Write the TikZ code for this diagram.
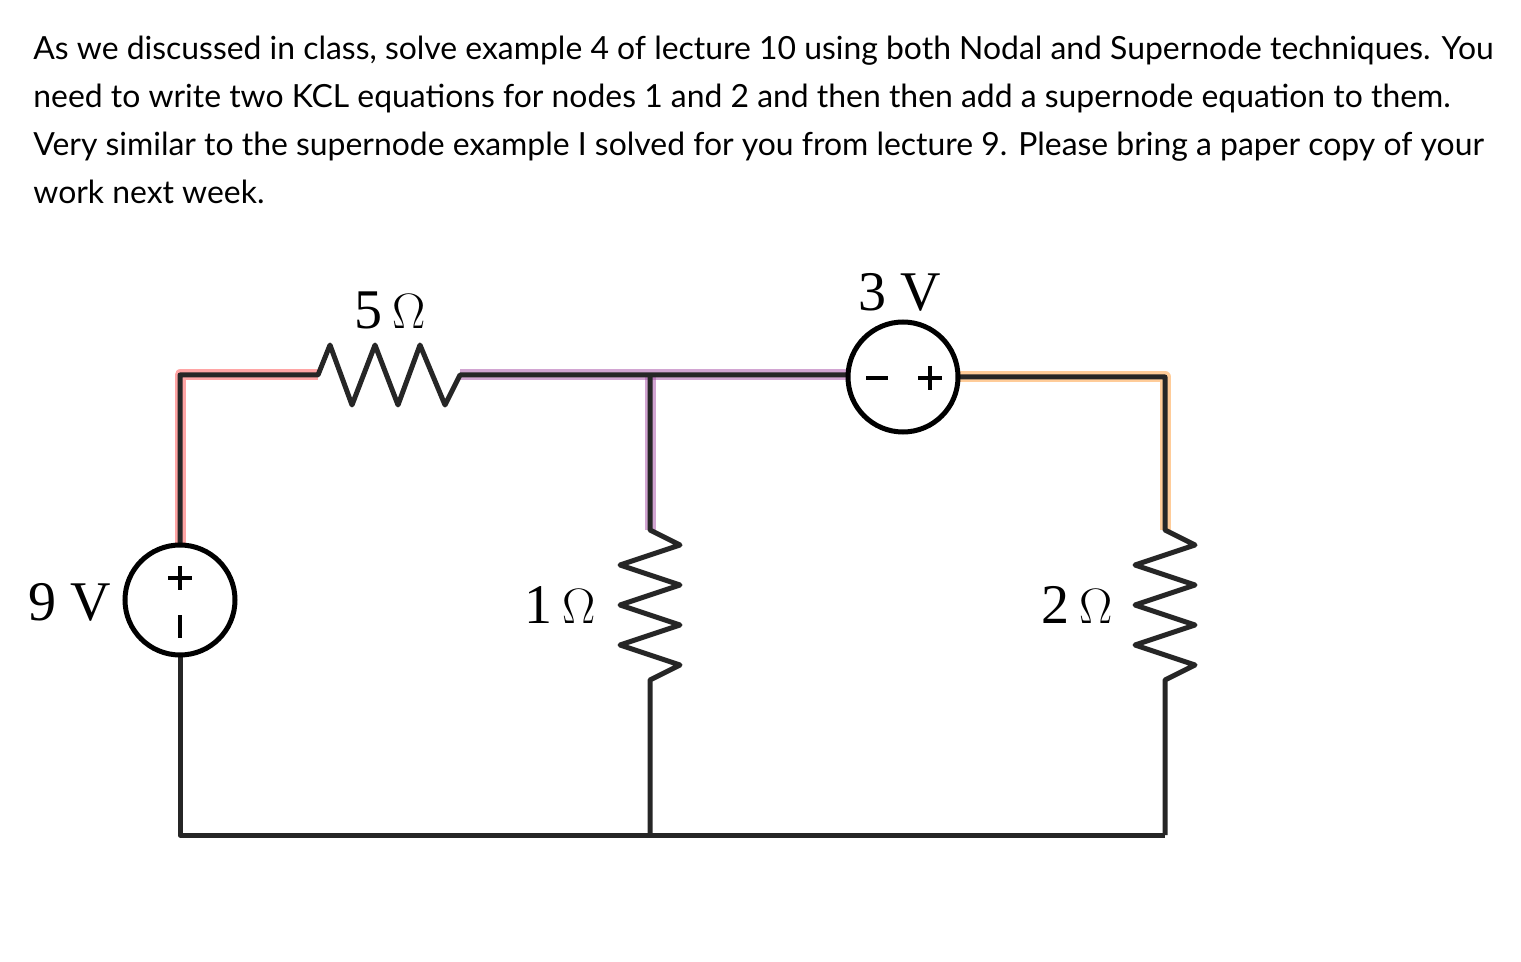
\documentclass[tikz,border=0pt]{standalone}
\usepackage{fontspec}
\setmainfont{Lato}
\newfontfamily\ckt{Liberation Serif}
\begin{document}
\begin{tikzpicture}[x=0.5pt,y=-0.5pt,
  txt/.style={anchor=base west,inner sep=0pt,font=\fontsize{15.95}{18}\selectfont},
  lbl/.style={inner sep=0pt,font=\ckt\fontsize{28}{30}\selectfont},
  wire/.style={line width=2.5pt,line join=round,color=black!85},
  glow/.style={line width=5.5pt,line join=round,opacity=0.5}]
\useasboundingbox (0,0) rectangle (1521,962);
\node[txt] (l1) at (33,60) {As we discussed in class, solve example 4 of lecture 10 using both Nodal and Supernode techniques. You};
\node[txt] (l2) at (33,108) {need to write two KCL equations for nodes 1 and 2 and then then add a supernode equation to them.};
\node[txt] (l3) at (33,156) {Very similar to the supernode example I solved for you from lecture 9. Please bring a paper copy of your};
\node[txt] (l4) at (33,204) {work next week.};
% glows
\draw[glow,red!70] (180,545) -- (180,375) -- (318,375);
\draw[glow,violet!70] (460,375) -- (848,375);
\draw[glow,violet!70] (650,375) -- (650,530);
\draw[glow,orange!80] (958,377) -- (1165,377) -- (1165,530);
% wires
\draw[wire] (180,545) -- (180,375) -- (318,375)
  -- (330,345) -- (352,405) -- (375,345) -- (398,405) -- (420,345) -- (445,405) -- (460,375) -- (848,375);
\draw[wire] (958,377) -- (1165,377) -- (1165,530)
  -- (1195,545) -- (1135,565) -- (1195,585) -- (1135,605) -- (1195,625) -- (1135,645) -- (1195,665) -- (1165,680) -- (1165,835);
\draw[wire] (650,375) -- (650,530)
  -- (680,545) -- (620,565) -- (680,585) -- (620,605) -- (680,625) -- (620,645) -- (680,665) -- (650,680) -- (650,835);
\draw[wire] (180,655) -- (180,835) -- (1165,835);
% sources
\draw[line width=2.5pt] (180,600) circle (55);
\draw[line width=2.2pt] (168,578) -- (192,578) (180,566) -- (180,590) (180,615) -- (180,638);
\draw[line width=2.5pt] (903,377) circle (55);
\draw[line width=2.2pt] (866,378) -- (888,378) (918,378) -- (942,378) (930,366) -- (930,390);
% labels
\node[lbl] (r5) at (390,310) {5\,$\Omega$};
\node[lbl] (v3) at (900,292) {3 V};
\node[lbl] (v9) at (70,602) {9 V};
\node[lbl] (r1) at (560,605) {1\,$\Omega$};
\node[lbl] (r2) at (1077,605) {2\,$\Omega$};
\end{tikzpicture}
\end{document}
